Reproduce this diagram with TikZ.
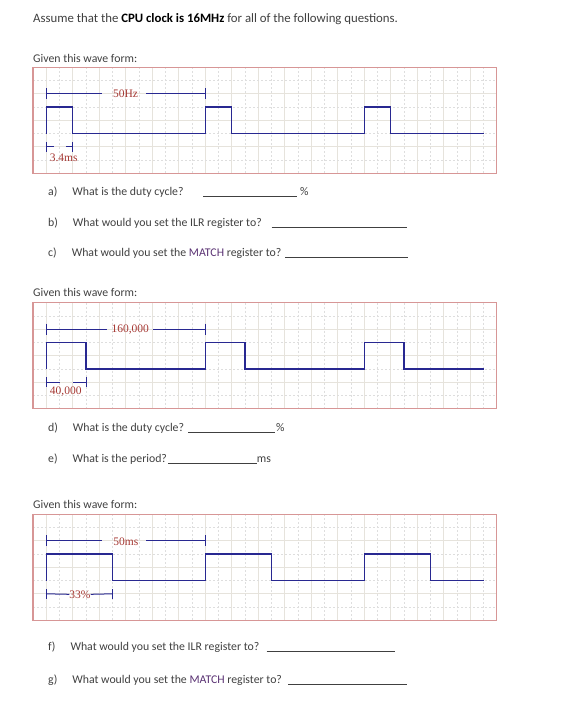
\documentclass[tikz,border=0pt]{standalone}
\usepackage{fontspec}
\setmainfont{Carlito}
\newfontfamily\lblfont{Liberation Serif}
\definecolor{wavec}{RGB}{40,40,145}
\definecolor{lblc}{RGB}{165,55,50}
\definecolor{framec}{RGB}{215,150,150}
\definecolor{gmaj}{RGB}{230,227,220}
\definecolor{gmin}{RGB}{222,222,222}
\definecolor{txtc}{RGB}{64,64,64}
\definecolor{matchc}{RGB}{90,50,115}
\tikzset{
  wavel/.style={draw=wavec, line width=1.3pt, line join=miter},
  diml/.style={draw=wavec, line width=1pt},
  lbl/.style={font=\lblfont\fontsize{11.5}{12}\selectfont, text=lblc, inner sep=0pt},
  qtext/.style={font=\fontsize{11.8}{13}\selectfont, text=txtc, inner sep=0pt, anchor=base west},
  blank/.style={draw=txtc, line width=0.7pt},
  majg/.style={draw=gmaj, line width=0.8pt},
  ming/.style={draw=gmin, line width=0.6pt, dash pattern=on 2pt off 2pt},
  framel/.style={draw=framec, line width=1.3pt}
}
\newcommand\wavepanel[2]{%
  \foreach \i in {1,3,...,33} {\draw[majg] ({33+\i*13.25},#1) -- ({33+\i*13.25},{#1+106});}
  \foreach \i in {2,4,...,34} {\draw[ming] ({33+\i*13.25},#1) -- ({33+\i*13.25},{#1+106});}
  \foreach \j in {2,4,6} {\draw[majg] (33,{#1+\j*13.25}) -- (496.75,{#1+\j*13.25});}
  \foreach \j in {1,3,5,7} {\draw[ming] (33,{#1+\j*13.25}) -- (496.75,{#1+\j*13.25});}
  \draw[framel] (33,#1) rectangle (496.75,{#1+106});
  \draw[wavel] (46.25,{#1+66.25}) -- (46.25,{#1+39.75}) -- ++({#2*13.25},0) -- ++(0,26.5)
     -- (205.25,{#1+66.25}) -- ++(0,-26.5) -- ++({#2*13.25},0) -- ++(0,26.5)
     -- (364.25,{#1+66.25}) -- ++(0,-26.5) -- ++({#2*13.25},0) -- ++(0,26.5)
     -- (483.5,{#1+66.25});
  % top dimension ticks
  \draw[diml] (46.25,{#1+26.5-5.5}) -- (46.25,{#1+26.5+5.5});
  \draw[diml] (205.25,{#1+26.5-5.5}) -- (205.25,{#1+26.5+5.5});
  % bottom dimension ticks
  \draw[diml] (46.25,{#1+79.5-5}) -- (46.25,{#1+79.5+5});
  \draw[diml] ({46.25+#2*13.25},{#1+79.5-5}) -- ({46.25+#2*13.25},{#1+79.5+5});
}
\begin{document}
\begin{tikzpicture}[x=1pt,y=-1pt]
\fill[white] (0,0) rectangle (565,713);
\useasboundingbox (0,0) rectangle (565,713);

\node[qtext, font=\fontsize{12.8}{14}\selectfont] (intro) at (33,22) {Assume that the \textbf{\color{black}CPU clock is 16MHz} for all of the following questions.};

% ---------- panel 1 ----------
\node[qtext] (g1) at (33,62.5) {Given this wave form:};
\wavepanel{67.3}{2}
\node[lbl] (l50hz) at (125.5,94) {50Hz};
\coordinate (p1a) at (46.25,93.8);
\coordinate (p1b) at (101.7,93.8);
\coordinate (p1c) at (146,93.8);
\coordinate (p1d) at (205.25,93.8);
\draw[diml] (p1a) -- (p1b);
\draw[diml] (p1c) -- (p1d);
\coordinate (p1e) at (46.25,146.8);
\coordinate (p1f) at (54,146.8);
\coordinate (p1g) at (66,146.8);
\coordinate (p1h) at (72.75,146.8);
\draw[diml] (p1e) -- (p1f);
\draw[diml] (p1g) -- (p1h);
\node[lbl] (l34) at (63.7,157.5) {3.4ms};

\node[qtext] (qa) at (48,195) {a)\hspace{15pt}What is the duty cycle?};
\draw[blank] (203,196) -- (297,196);
\node[qtext] (pa) at (300,195) {\%};
\node[qtext] (qb) at (48,226) {b)\hspace{15pt}What would you set the ILR register to?};
\draw[blank] (271.7,227) -- (406.7,227);
\node[qtext] (qc) at (48,256) {c)\hspace{15pt}What would you set the {\color{matchc}MATCH} register to?};
\draw[blank] (285,257) -- (408,257);

% ---------- panel 2 ----------
\node[qtext] (g2) at (33,296.7) {Given this wave form:};
\wavepanel{302.7}{3}
\node[lbl] (l160) at (130.3,329.6) {160,000};
\coordinate (p2a) at (46.25,329.2);
\coordinate (p2b) at (107.3,329.2);
\coordinate (p2c) at (153.3,329.2);
\coordinate (p2d) at (205.25,329.2);
\draw[diml] (p2a) -- (p2b);
\draw[diml] (p2c) -- (p2d);
\coordinate (p2e) at (46.25,382.2);
\coordinate (p2f) at (60,382.2);
\coordinate (p2g) at (73,382.2);
\coordinate (p2h) at (86,382.2);
\draw[diml] (p2e) -- (p2f);
\draw[diml] (p2g) -- (p2h);
\node[lbl] (l40) at (65.8,391.5) {40,000};

\node[qtext] (qd) at (48,431) {d)\hspace{15pt}What is the duty cycle?};
\draw[blank] (188.3,432) -- (275,432);
\node[qtext] (pd) at (276,431) {\%};
\node[qtext] (qe) at (48,462.7) {e)\hspace{15pt}What is the period?};
\draw[blank] (168,463.7) -- (256.7,463.7);
\node[qtext] (me) at (256.7,462.7) {ms};

% ---------- panel 3 ----------
\node[qtext] (g3) at (33,508.3) {Given this wave form:};
\wavepanel{514.3}{5}
\node[lbl] (l50ms) at (125.8,541.8) {50ms};
\coordinate (p3a) at (46.25,540.8);
\coordinate (p3b) at (101.7,540.8);
\coordinate (p3c) at (146,540.8);
\coordinate (p3d) at (205.25,540.8);
\draw[diml] (p3a) -- (p3b);
\draw[diml] (p3c) -- (p3d);
\node[lbl] (l33) at (80,594.3) {33\%};
\coordinate (p3e) at (46.25,593.8);
\coordinate (p3h) at (112.5,593.8);
\draw[diml] (p3e) -- (l33.west);
\draw[diml] (l33.east) -- (p3h);

\node[qtext] (qf) at (48,650) {f)\hspace{15pt}What would you set the ILR register to?};
\draw[blank] (266.7,651) -- (395,651);
\node[qtext] (qg) at (48,683.3) {g)\hspace{15pt}What would you set the {\color{matchc}MATCH} register to?};
\draw[blank] (288,684.3) -- (406.7,684.3);
\end{tikzpicture}
\end{document}
